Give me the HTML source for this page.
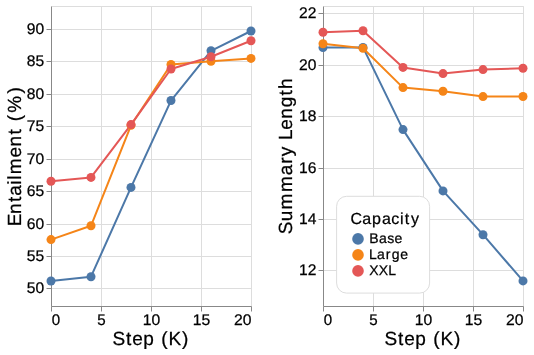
<!DOCTYPE html><html><head><meta charset="utf-8"><title>Chart</title><style>html,body{margin:0;padding:0;background:#fff;}svg{display:block;will-change:transform;}text{font-family:"Liberation Sans",sans-serif;text-rendering:geometricPrecision;fill:#000;stroke:#000;stroke-width:0.25px;}</style></head><body>
<svg width="534" height="355" viewBox="0 0 534 355">
<rect x="0" y="0" width="534" height="355" fill="#fff"/>
<path d="M101.5 6.5V306.5 M151.5 6.5V306.5 M201.5 6.5V306.5 M251.5 6.5V306.5 M51.5 29.50H251.5 M51.5 61.50H251.5 M51.5 94.50H251.5 M51.5 126.50H251.5 M51.5 159.50H251.5 M51.5 191.50H251.5 M51.5 224.50H251.5 M51.5 256.50H251.5 M51.5 288.50H251.5" stroke="#ddd" stroke-width="1" fill="none"/>
<path d="M51.5 6.5H251.5V306.5" stroke="#ddd" stroke-width="1" fill="none"/>
<path d="M51.5 6.5V306.5H251.5 M46.5 29.50H51.5 M46.5 61.50H51.5 M46.5 94.50H51.5 M46.5 126.50H51.5 M46.5 159.50H51.5 M46.5 191.50H51.5 M46.5 224.50H51.5 M46.5 256.50H51.5 M46.5 288.50H51.5 M51.5 306.5V311.5 M101.5 306.5V311.5 M151.5 306.5V311.5 M201.5 306.5V311.5 M251.5 306.5V311.5" stroke="#888" stroke-width="1" fill="none"/>
<text x="44.2" y="33.90" font-size="15.4" text-anchor="end" textLength="17.4" lengthAdjust="spacingAndGlyphs">90</text>
<text x="44.2" y="65.90" font-size="15.4" text-anchor="end" textLength="17.4" lengthAdjust="spacingAndGlyphs">85</text>
<text x="44.2" y="98.90" font-size="15.4" text-anchor="end" textLength="17.4" lengthAdjust="spacingAndGlyphs">80</text>
<text x="44.2" y="130.90" font-size="15.4" text-anchor="end" textLength="17.4" lengthAdjust="spacingAndGlyphs">75</text>
<text x="44.2" y="163.90" font-size="15.4" text-anchor="end" textLength="17.4" lengthAdjust="spacingAndGlyphs">70</text>
<text x="44.2" y="195.90" font-size="15.4" text-anchor="end" textLength="17.4" lengthAdjust="spacingAndGlyphs">65</text>
<text x="44.2" y="228.90" font-size="15.4" text-anchor="end" textLength="17.4" lengthAdjust="spacingAndGlyphs">60</text>
<text x="44.2" y="260.90" font-size="15.4" text-anchor="end" textLength="17.4" lengthAdjust="spacingAndGlyphs">55</text>
<text x="44.2" y="292.90" font-size="15.4" text-anchor="end" textLength="17.4" lengthAdjust="spacingAndGlyphs">50</text>
<text x="51.7" y="325" font-size="15.4" textLength="8.4" lengthAdjust="spacingAndGlyphs">0</text>
<text x="101.5" y="325" font-size="15.4" text-anchor="middle" textLength="8.4" lengthAdjust="spacingAndGlyphs">5</text>
<text x="151.5" y="325" font-size="15.4" text-anchor="middle" textLength="17.5" lengthAdjust="spacingAndGlyphs">10</text>
<text x="201.5" y="325" font-size="15.4" text-anchor="middle" textLength="17.5" lengthAdjust="spacingAndGlyphs">15</text>
<text x="251.5" y="325" font-size="15.4" text-anchor="end" textLength="17.5" lengthAdjust="spacingAndGlyphs">20</text>
<text x="112.57 125.97 132.23 143.21 154.62 161.35 168.50 182.00" y="345.45" font-size="19.0">Step (K)</text>
<text transform="translate(20.7 225.66) rotate(-90)" x="-0.65 11.79 23.68 29.99 41.04 45.97 51.39 68.14 79.20 91.09 97.80 104.53 113.02 132.07" y="0" font-size="19.0">Entailment (%)</text>
<polyline points="51,281.0 91,276.7 131,187.4 171,100.55 211,50.8 251,31.0" fill="none" stroke="#4c78a8" stroke-width="2" stroke-linejoin="round"/>
<polyline points="51,239.6 91,225.8 131,125.3 171,64.5 211,61.2 251,58.4" fill="none" stroke="#f58518" stroke-width="2" stroke-linejoin="round"/>
<polyline points="51,181.3 91,177.4 131,124.6 171,69.0 211,56.7 251,40.75" fill="none" stroke="#e45756" stroke-width="2" stroke-linejoin="round"/>
<circle cx="51" cy="281.0" r="4.5" fill="#4c78a8"/>
<circle cx="91" cy="276.7" r="4.5" fill="#4c78a8"/>
<circle cx="131" cy="187.4" r="4.5" fill="#4c78a8"/>
<circle cx="171" cy="100.55" r="4.5" fill="#4c78a8"/>
<circle cx="211" cy="50.8" r="4.5" fill="#4c78a8"/>
<circle cx="251" cy="31.0" r="4.5" fill="#4c78a8"/>
<circle cx="51" cy="239.6" r="4.5" fill="#f58518"/>
<circle cx="91" cy="225.8" r="4.5" fill="#f58518"/>
<circle cx="131" cy="125.3" r="4.5" fill="#f58518"/>
<circle cx="171" cy="64.5" r="4.5" fill="#f58518"/>
<circle cx="211" cy="61.2" r="4.5" fill="#f58518"/>
<circle cx="251" cy="58.4" r="4.5" fill="#f58518"/>
<circle cx="51" cy="181.3" r="4.5" fill="#e45756"/>
<circle cx="91" cy="177.4" r="4.5" fill="#e45756"/>
<circle cx="131" cy="124.6" r="4.5" fill="#e45756"/>
<circle cx="171" cy="69.0" r="4.5" fill="#e45756"/>
<circle cx="211" cy="56.7" r="4.5" fill="#e45756"/>
<circle cx="251" cy="40.75" r="4.5" fill="#e45756"/>
<path d="M373.5 6.5V306.5 M423.5 6.5V306.5 M473.5 6.5V306.5 M523.5 6.5V306.5 M323.5 13.50H523.5 M323.5 65.50H523.5 M323.5 116.50H523.5 M323.5 168.50H523.5 M323.5 219.50H523.5 M323.5 270.50H523.5" stroke="#ddd" stroke-width="1" fill="none"/>
<path d="M323.5 6.5H523.5V306.5" stroke="#ddd" stroke-width="1" fill="none"/>
<path d="M323.5 6.5V306.5H523.5 M318.5 13.50H323.5 M318.5 65.50H323.5 M318.5 116.50H323.5 M318.5 168.50H323.5 M318.5 219.50H323.5 M318.5 270.50H323.5 M323.5 306.5V311.5 M373.5 306.5V311.5 M423.5 306.5V311.5 M473.5 306.5V311.5 M523.5 306.5V311.5" stroke="#888" stroke-width="1" fill="none"/>
<text x="316.4" y="18.10" font-size="15.4" text-anchor="end" textLength="17.4" lengthAdjust="spacingAndGlyphs">22</text>
<text x="316.4" y="70.10" font-size="15.4" text-anchor="end" textLength="17.4" lengthAdjust="spacingAndGlyphs">20</text>
<text x="316.4" y="121.10" font-size="15.4" text-anchor="end" textLength="17.4" lengthAdjust="spacingAndGlyphs">18</text>
<text x="316.4" y="173.10" font-size="15.4" text-anchor="end" textLength="17.4" lengthAdjust="spacingAndGlyphs">16</text>
<text x="316.4" y="224.10" font-size="15.4" text-anchor="end" textLength="17.4" lengthAdjust="spacingAndGlyphs">14</text>
<text x="316.4" y="275.10" font-size="15.4" text-anchor="end" textLength="17.4" lengthAdjust="spacingAndGlyphs">12</text>
<text x="323.7" y="325" font-size="15.4" textLength="8.4" lengthAdjust="spacingAndGlyphs">0</text>
<text x="373.5" y="325" font-size="15.4" text-anchor="middle" textLength="8.4" lengthAdjust="spacingAndGlyphs">5</text>
<text x="423.5" y="325" font-size="15.4" text-anchor="middle" textLength="17.5" lengthAdjust="spacingAndGlyphs">10</text>
<text x="473.5" y="325" font-size="15.4" text-anchor="middle" textLength="17.5" lengthAdjust="spacingAndGlyphs">15</text>
<text x="523.5" y="325" font-size="15.4" text-anchor="end" textLength="17.5" lengthAdjust="spacingAndGlyphs">20</text>
<text x="384.57 397.97 404.23 415.21 426.62 433.35 440.50 454.00" y="345.45" font-size="19.0">Step (K)</text>
<text transform="translate(292.4 234.04) rotate(-90)" x="-0.18 12.73 24.55 42.06 58.86 70.23 77.82 88.42 93.96 104.34 115.40 126.70 138.50 145.10" y="0" font-size="19.0">Summary Length</text>
<polyline points="323,47.6 363,47.4 403,129.6 443,190.9 483,234.7 523,280.9" fill="none" stroke="#4c78a8" stroke-width="2" stroke-linejoin="round"/>
<polyline points="323,43.7 363,48.3 403,87.6 443,91.2 483,96.6 523,96.5" fill="none" stroke="#f58518" stroke-width="2" stroke-linejoin="round"/>
<polyline points="323,32.3 363,30.7 403,67.4 443,73.6 483,69.6 523,68.3" fill="none" stroke="#e45756" stroke-width="2" stroke-linejoin="round"/>
<circle cx="323" cy="47.6" r="4.5" fill="#4c78a8"/>
<circle cx="363" cy="47.4" r="4.5" fill="#4c78a8"/>
<circle cx="403" cy="129.6" r="4.5" fill="#4c78a8"/>
<circle cx="443" cy="190.9" r="4.5" fill="#4c78a8"/>
<circle cx="483" cy="234.7" r="4.5" fill="#4c78a8"/>
<circle cx="523" cy="280.9" r="4.5" fill="#4c78a8"/>
<circle cx="323" cy="43.7" r="4.5" fill="#f58518"/>
<circle cx="363" cy="48.3" r="4.5" fill="#f58518"/>
<circle cx="403" cy="87.6" r="4.5" fill="#f58518"/>
<circle cx="443" cy="91.2" r="4.5" fill="#f58518"/>
<circle cx="483" cy="96.6" r="4.5" fill="#f58518"/>
<circle cx="523" cy="96.5" r="4.5" fill="#f58518"/>
<circle cx="323" cy="32.3" r="4.5" fill="#e45756"/>
<circle cx="363" cy="30.7" r="4.5" fill="#e45756"/>
<circle cx="403" cy="67.4" r="4.5" fill="#e45756"/>
<circle cx="443" cy="73.6" r="4.5" fill="#e45756"/>
<circle cx="483" cy="69.6" r="4.5" fill="#e45756"/>
<circle cx="523" cy="68.3" r="4.5" fill="#e45756"/>
<rect x="336.6" y="196.3" width="93" height="96.8" rx="10" ry="10" fill="#fff" stroke="#ddd" stroke-width="1"/>
<text x="350.61 362.33 372.12 381.91 391.34 399.92 404.82 410.93" y="223.8" font-size="16">Capacity</text>
<circle cx="358" cy="238.9" r="5.8" fill="#4c78a8"/>
<text x="369.13 378.92 387.17 394.59" y="242.6" font-size="14">Base</text>
<circle cx="358" cy="254.9" r="5.8" fill="#f58518"/>
<text x="369.01 377.11 385.87 391.66 400.19" y="258.6" font-size="14">Large</text>
<circle cx="358" cy="270.9" r="5.8" fill="#e45756"/>
<text x="369.13 378.72 388.19" y="274.6" font-size="14">XXL</text>
</svg></body></html>
